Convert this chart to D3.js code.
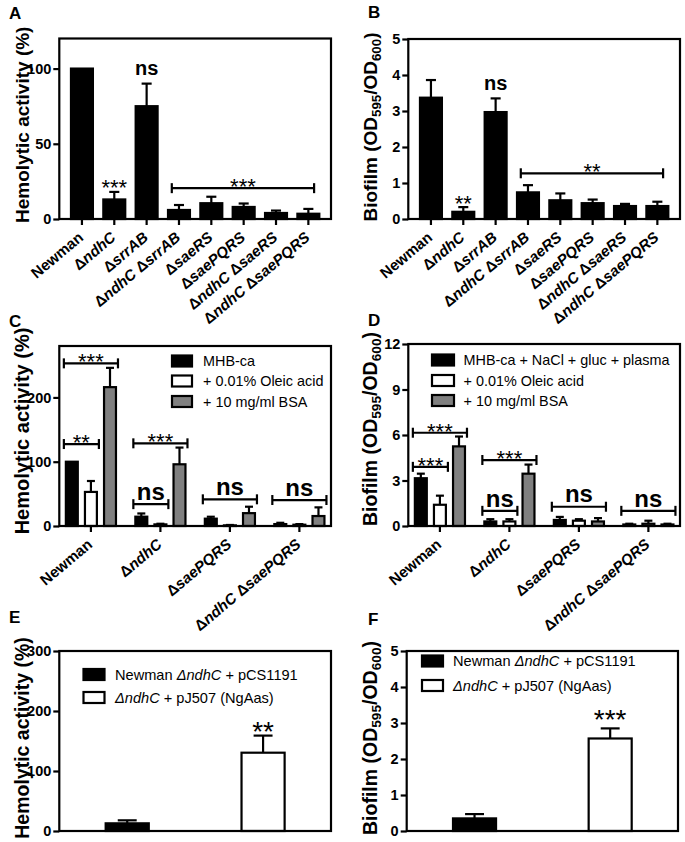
<!DOCTYPE html>
<html><head><meta charset="utf-8">
<script src="https://cdn.jsdelivr.net/npm/d3@7"></script>
<style>
body{margin:0;background:#fff}
svg{display:block;font-family:"Liberation Sans",Arial,Helvetica,sans-serif}
</style>
</head><body>
<svg id="c" width="685" height="842"></svg>
<script>
// ---------------- DATA ----------------
const strainsAB = ["Newman","ΔndhC","ΔsrrAB","ΔndhC ΔsrrAB","ΔsaeRS","ΔsaePQRS","ΔndhC ΔsaeRS","ΔndhC ΔsaePQRS"];
const hemolysisA = [100, 13, 75, 6, 10.5, 8, 4, 3.5];
const hemolysisAErr = [0, 5, 15, 3.3, 4.3, 2.3, 1.6, 3.2];
const biofilmB = [3.37, 0.2, 2.97, 0.74, 0.52, 0.44, 0.36, 0.36];
const biofilmBErr = [0.49, 0.13, 0.38, 0.2, 0.19, 0.1, 0.06, 0.12];
const ticksA = [0, 50, 100];
const ticksB = [0, 1, 2, 3, 4, 5];

const strainsCD = ["Newman","ΔndhC","ΔsaePQRS","ΔndhC ΔsaePQRS"];
const seriesC = ["MHB-ca", "+ 0.01% Oleic acid", "+ 10 mg/ml BSA"];
const hemoC_MHB = [100, 14.5, 11.4, 3];
const hemoC_MHBErr = [0, 5, 3, 2];
const hemoC_Oleic = [53, 2.5, 1, 2];
const hemoC_OleicErr = [17, 1, 0.6, 1];
const hemoC_BSA = [216, 96, 20, 15.5];
const hemoC_BSAErr = [30, 26, 10, 13.5];
const ticksC = [0, 100, 200];

const seriesD = ["MHB-ca + NaCl + gluc + plasma", "+ 0.01% Oleic acid", "+ 10 mg/ml BSA"];
const bioD_MHB = [3.15, 0.3, 0.4, 0.1];
const bioD_MHBErr = [0.3, 0.15, 0.2, 0.05];
const bioD_Oleic = [1.4, 0.3, 0.35, 0.15];
const bioD_OleicErr = [0.6, 0.15, 0.1, 0.2];
const bioD_BSA = [5.25, 3.45, 0.3, 0.1];
const bioD_BSAErr = [0.65, 0.6, 0.22, 0.05];
const ticksD = [0, 3, 6, 9, 12];

const seriesEF = ["Newman ΔndhC + pCS1191", "ΔndhC + pJ507 (NgAas)"];
const hemoE = [12.8, 130.5];
const hemoEErr = [5, 28.5];
const bioF = [0.35, 2.57];
const bioFErr = [0.12, 0.28];
const ticksE = [0, 100, 200, 300];
const ticksF = [0, 1, 2, 3, 4, 5];

// significance annotations (value units)
const sigBracketA = [{from:3, to:7, at:20.5, text:"***"}];
const sigBarA = [{bar:1, at:24, text:"***"}, {bar:2, at:99.5, text:"ns"}];
const sigBracketB = [{from:3, to:7, at:1.27, text:"**"}];
const sigBarB = [{bar:1, at:0.56, text:"**"}, {bar:2, at:3.72, text:"ns"}];
const sigBracketC = [
  {group:0, from:0, to:2, at:253, text:"***"},
  {group:0, from:0, to:1, at:127.5, text:"**"},
  {group:1, from:0, to:2, at:128.6, text:"***"},
  {group:1, from:0, to:1, at:34, text:"ns"},
  {group:2, from:0, to:2, at:41.5, text:"ns"},
  {group:3, from:0, to:2, at:40.4, text:"ns"}];
const sigBracketD = [
  {group:0, from:0, to:2, at:6.15, text:"***"},
  {group:0, from:0, to:1, at:3.9, text:"***"},
  {group:1, from:0, to:2, at:4.35, text:"***"},
  {group:1, from:0, to:1, at:1.0, text:"ns"},
  {group:2, from:0, to:2, at:1.27, text:"ns"},
  {group:3, from:0, to:2, at:1.0, text:"ns"}];
const sigBarE = [{bar:1, at:176.7, text:"**"}];
const sigBarF = [{bar:1, at:3.27, text:"***"}];

// ---------------- DRAWING ----------------
const FONT = '"Liberation Sans", Arial, Helvetica, sans-serif';
const svg = d3.select("#c");
const SW = 2.2;
const fills = ["#000000", "#ffffff", "#808080"];

function labelSegs(label) {
  return label.split(/(Δ| )/).filter(s => s !== "").map(s => ({t:s, it: !(s === "Δ" || s === " " || s === "Newman")}));
}
function legendSegs(label) {
  return label.split(/(Δ\w+)/).filter(s => s !== "").map(s => ({t:s, it: s.startsWith("Δ")}));
}
function addSegs(text, segs) {
  segs.forEach(s => text.append("tspan").text(s.t).attr("font-style", s.it ? "italic" : "normal"));
}

function panel(cfg) {
  const y = d3.scaleLinear().domain([0, cfg.max]).range([cfg.bottom, cfg.top]);
  const g = svg.append("g");
  const front = svg.append("g");
  front.append("rect").attr("x", cfg.left).attr("y", cfg.top)
    .attr("width", cfg.right - cfg.left).attr("height", cfg.bottom - cfg.top)
    .attr("fill", "none").attr("stroke", "#000").attr("stroke-width", SW);
  const ax = front.append("g").attr("transform", `translate(${cfg.left},0)`)
    .call(d3.axisLeft(y).tickValues(cfg.ticks).tickSize(6).tickPadding(2).tickFormat(d3.format("d")));
  ax.select(".domain").remove();
  ax.selectAll("line").attr("stroke", "#000").attr("stroke-width", SW);
  ax.selectAll("text").attr("font-size", 14.5).attr("font-weight", "bold")
    .attr("font-family", FONT).attr("fill", "#000");
  front.append("text").attr("x", cfg.letterX).attr("y", cfg.letterY).text(cfg.letter)
    .attr("font-size", 17).attr("font-weight", "bold");
  const fs = cfg.ylabFs;
  const yl = front.append("text")
    .attr("transform", `translate(${cfg.ylabX},${(cfg.top + cfg.bottom) / 2 + cfg.ylabShift}) rotate(-90)`)
    .attr("text-anchor", "middle").attr("font-size", fs).attr("font-weight", "bold");
  if (cfg.biofilm) {
    const sub = fs * 0.7, d = fs * 0.22;
    yl.append("tspan").text("Biofilm (OD");
    yl.append("tspan").text("595").attr("font-size", sub).attr("dy", d);
    yl.append("tspan").text("/OD").attr("dy", -d);
    yl.append("tspan").text("600").attr("font-size", sub).attr("dy", d);
    yl.append("tspan").text(")").attr("dy", -d);
  } else {
    yl.text("Hemolytic activity (%)");
  }
  return {y, g, front};
}

function errBar(g, xc, y0, y1, capW) {
  g.append("line").attr("x1", xc).attr("x2", xc).attr("y1", y0).attr("y2", y1)
    .attr("stroke", "#000").attr("stroke-width", SW);
  g.append("line").attr("x1", xc - capW / 2).attr("x2", xc + capW / 2).attr("y1", y1).attr("y2", y1)
    .attr("stroke", "#000").attr("stroke-width", SW);
}

function sigText(g, x, yc, s, fs) {
  const star = s.includes("*");
  g.append("text").attr("x", x).attr("y", yc + (star ? 0.57 : 0.26) * fs)
    .attr("text-anchor", "middle").attr("font-size", fs)
    .attr("font-weight", star ? "normal" : "bold").text(s);
}

function bracket(g, xa, xb, yy, s, starFs, nsFs) {
  g.append("line").attr("x1", xa).attr("x2", xb).attr("y1", yy).attr("y2", yy)
    .attr("stroke", "#000").attr("stroke-width", SW);
  [xa, xb].forEach(xx => g.append("line").attr("x1", xx).attr("x2", xx)
    .attr("y1", yy - 5).attr("y2", yy + 5).attr("stroke", "#000").attr("stroke-width", SW));
  const star = s.includes("*");
  sigText(g, (xa + xb) / 2, yy - (star ? 6.5 : 10.5), s, star ? starFs : nsFs);
}

function xTickLabels(front, centers, labels, axisY) {
  centers.forEach((xc, i) => {
    front.append("line").attr("x1", xc).attr("x2", xc).attr("y1", axisY).attr("y2", axisY + 6)
      .attr("stroke", "#000").attr("stroke-width", SW);
    const t = front.append("text")
      .attr("transform", `translate(${xc + 2.5},${axisY + 20}) rotate(-40)`)
      .attr("text-anchor", "end").attr("font-size", 15.2).attr("font-weight", "bold");
    addSegs(t, labelSegs(labels[i]));
  });
}

function legend(front, names, x, ys, w, tx, fs, segFn) {
  names.forEach((n, i) => {
    front.append("rect").attr("x", x).attr("y", ys[i] - 5.5).attr("width", w).attr("height", 11)
      .attr("fill", fills[i]).attr("stroke", "#000").attr("stroke-width", SW);
    const t = front.append("text").attr("x", tx).attr("y", ys[i] + fs * 0.36).attr("font-size", fs);
    addSegs(t, segFn(n));
  });
}

function singleBars(cfg, cats, vals, errs, ticks, brackets, singles, rotLabels) {
  const p = panel(Object.assign({ticks}, cfg));
  const x = d3.scaleBand().domain(cats).range([cfg.left, cfg.right])
    .paddingInner(cfg.pi).paddingOuter(cfg.po);
  const bw = x.bandwidth();
  cats.forEach((c, i) => {
    p.g.append("rect").attr("x", x(c) + 1).attr("width", bw - 2)
      .attr("y", p.y(vals[i])).attr("height", p.y(0) - p.y(vals[i]))
      .attr("fill", cfg.colors ? cfg.colors[i] : "#000").attr("stroke", "#000").attr("stroke-width", SW);
    if (errs[i] > 0) errBar(p.g, x(c) + bw / 2, p.y(vals[i]), p.y(vals[i] + errs[i]), Math.max(9, bw * 0.42));
  });
  brackets.forEach(b => bracket(p.front, x(cats[b.from]) + bw * 0.2, x(cats[b.to]) + bw * 0.74,
    p.y(b.at), b.text, cfg.starFs, cfg.nsFs));
  singles.forEach(s => {
    sigText(p.front, x(cats[s.bar]) + bw / 2, p.y(s.at), s.text, s.text.includes("*") ? cfg.starFs : cfg.nsFs);
  });
  if (rotLabels) xTickLabels(p.front, cats.map(c => x(c) + bw / 2), cats, cfg.bottom);
  return {p, x};
}

singleBars({left:59.3, right:331, top:38.5, bottom:219, max:120, letter:"A", letterX:9, letterY:19,
  ylabX:28.5, ylabFs:19, ylabShift:-4, pi:0.26, po:0.33, starFs:22, nsFs:20},
  strainsAB, hemolysisA, hemolysisAErr, ticksA, sigBracketA, sigBarA, true);

singleBars({left:408.3, right:680, top:39, bottom:219, max:5, letter:"B", letterX:368, letterY:18,
  ylabX:377, ylabFs:19, ylabShift:-2, pi:0.26, po:0.33, starFs:22, nsFs:20, biofilm:true},
  strainsAB, biofilmB, biofilmBErr, ticksB, sigBracketB, sigBarB, true);

function groupedBars(cfg, cats, seriesNames, series, seriesErr, ticks, brackets) {
  const p = panel(Object.assign({ticks}, cfg));
  const x0 = d3.scaleBand().domain(cats).range([cfg.left, cfg.right]).paddingInner(0.25).paddingOuter(0.08);
  const x1 = d3.scaleBand().domain(d3.range(series.length)).range([0, x0.bandwidth()]).paddingInner(0.27);
  const bw = x1.bandwidth();
  cats.forEach((c, gi) => {
    series.forEach((s, si) => {
      const xl = x0(c) + x1(si);
      p.g.append("rect").attr("x", xl + 1).attr("width", bw - 2)
        .attr("y", p.y(s[gi])).attr("height", p.y(0) - p.y(s[gi]))
        .attr("fill", fills[si]).attr("stroke", "#000").attr("stroke-width", SW);
      const e = seriesErr[si][gi];
      if (e > 0) errBar(p.g, xl + bw / 2, p.y(s[gi]), p.y(s[gi] + e), 8);
    });
  });
  brackets.forEach(b => {
    const c = cats[b.group];
    bracket(p.front, x0(c) + x1(b.from) - 1, x0(c) + x1(b.to) + bw + 1, p.y(b.at), b.text, 22, 24);
  });
  xTickLabels(p.front, cats.map(c => x0(c) + x0.bandwidth() / 2), cats, cfg.bottom);
  legend(p.front, seriesNames, cfg.legX, cfg.legY, cfg.legW, cfg.legTX, 14.4, s => [{t:s, it:false}]);
}

groupedBars({left:59.3, right:331, top:346, bottom:526, max:280, letter:"C", letterX:9, letterY:327,
  ylabX:28.5, ylabFs:20, ylabShift:-5, legX:172, legY:[361, 381, 401.5], legW:20, legTX:203},
  strainsCD, seriesC, [hemoC_MHB, hemoC_Oleic, hemoC_BSA],
  [hemoC_MHBErr, hemoC_OleicErr, hemoC_BSAErr], ticksC, sigBracketC);

groupedBars({left:408.3, right:680, top:344, bottom:526, max:12, letter:"D", letterX:368, letterY:326,
  ylabX:377, ylabFs:19.5, ylabShift:-6, biofilm:true, legX:432, legY:[360, 380.5, 400.5], legW:22, legTX:463.5},
  strainsCD, seriesD, [bioD_MHB, bioD_Oleic, bioD_BSA],
  [bioD_MHBErr, bioD_OleicErr, bioD_BSAErr], ticksD, sigBracketD);

function twoBars(cfg, vals, errs, ticks, singles) {
  const r = singleBars(Object.assign({pi:0.668, po:0.334, starFs:28, nsFs:22, colors:fills}, cfg),
    seriesEF, vals, errs, ticks, [], singles, false);
  legend(r.p.front, seriesEF, cfg.legX, cfg.legY, 21, cfg.legTX, 14.6, legendSegs);
}
twoBars({left:59.3, right:331, top:651, bottom:831, max:300, letter:"E", letterX:9, letterY:623,
  ylabX:28.5, ylabFs:19.5, ylabShift:-3, legX:83.5, legY:[674.5, 697.5], legTX:115}, hemoE, hemoEErr, ticksE, sigBarE);
twoBars({left:406.7, right:678, top:651, bottom:831, max:5, letter:"F", letterX:368, letterY:625,
  ylabX:377, ylabFs:19.5, ylabShift:-3, biofilm:true, legX:422, legY:[661, 685.5], legTX:453}, bioF, bioFErr, ticksF, sigBarF);
</script>
</body></html>
